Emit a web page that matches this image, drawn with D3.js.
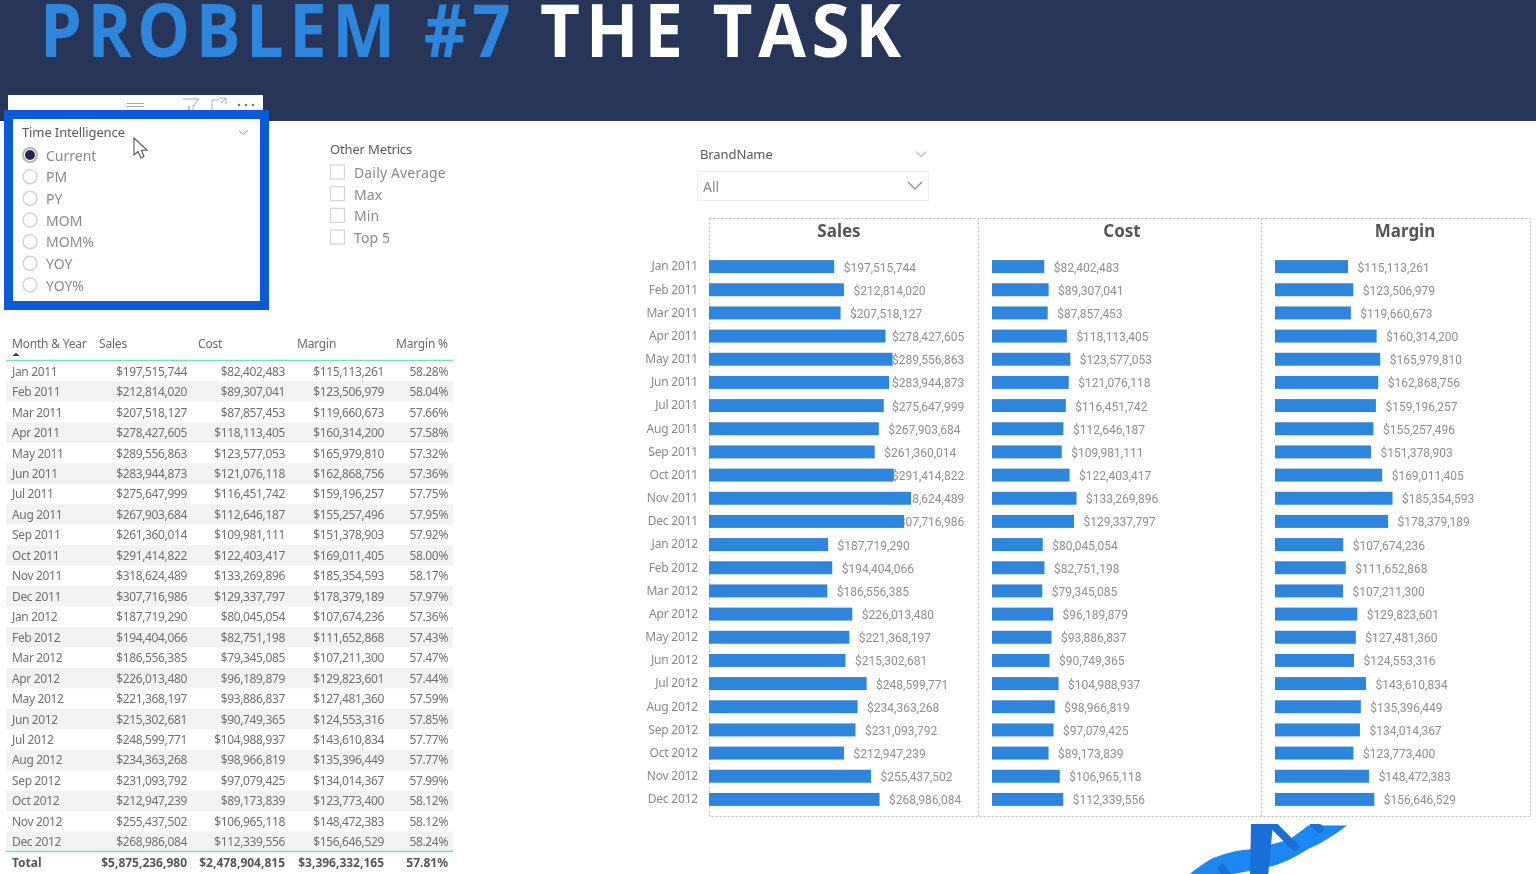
<!DOCTYPE html>
<html>
<head>
<meta charset="utf-8">
<script src="https://cdn.jsdelivr.net/npm/d3@7"></script>
<style>
  html, body { margin: 0; padding: 0; background: #fff; overflow: hidden; }
  svg { display: block; filter: blur(0.35px); }
  text { font-family: "Noto Sans", sans-serif; }
  .axis .domain { display: none; }
  .axis text { font-family: "Noto Sans", sans-serif; font-size: 12px; fill: #8a8a8a; letter-spacing: -0.2px; }
</style>
</head>
<body>
<div id="chart"></div>
<script>
const WIDTH = 1536;
const HEIGHT = 874;

// data
const categories = ["Jan 2011","Feb 2011","Mar 2011","Apr 2011","May 2011","Jun 2011","Jul 2011","Aug 2011","Sep 2011","Oct 2011","Nov 2011","Dec 2011","Jan 2012","Feb 2012","Mar 2012","Apr 2012","May 2012","Jun 2012","Jul 2012","Aug 2012","Sep 2012","Oct 2012","Nov 2012","Dec 2012"];
const salesValues = [197515744,212814020,207518127,278427605,289556863,283944873,275647999,267903684,261360014,291414822,318624489,307716986,187719290,194404066,186556385,226013480,221368197,215302681,248599771,234363268,231093792,212947239,255437502,268986084];
const costValues = [82402483,89307041,87857453,118113405,123577053,121076118,116451742,112646187,109981111,122403417,133269896,129337797,80045054,82751198,79345085,96189879,93886837,90749365,104988937,98966819,97079425,89173839,106965118,112339556];
const marginValues = [115113261,123506979,119660673,160314200,165979810,162868756,159196257,155257496,151378903,169011405,185354593,178379189,107674236,111652868,107211300,129823601,127481360,124553316,143610834,135396449,134014367,123773400,148472383,156646529];
const marginPct = [58.28,58.04,57.66,57.58,57.32,57.36,57.75,57.95,57.92,58.00,58.17,57.97,57.36,57.43,57.47,57.44,57.59,57.85,57.77,57.77,57.99,58.12,58.12,58.24];
const totalValues = [5875236980,2478904815,3396332165];
const totalPct = 57.81;
const tableHeaders = ["Month & Year","Sales","Cost","Margin","Margin %"];
const timeOptions = ["Current","PM","PY","MOM","MOM%","YOY","YOY%"];
const otherMetrics = ["Daily Average","Max","Min","Top 5"];

const BLUE = "#2e86dc";
const GREY_TEXT = "#8a8a8a";
const DARK_TEXT = "#5a5a5a";
const money = d3.format("$,");
const pct = d3.format(".2f");

const svg = d3.select("#chart").append("svg").attr("width", WIDTH).attr("height", HEIGHT);

function drawHeader() {
  svg.append("rect").attr("width", WIDTH).attr("height", 121).attr("fill", "#273558");
  const titlePart = (x, len, fill, txt) => svg.append("text").attr("x", x).attr("y", 57)
    .attr("textLength", len).attr("lengthAdjust", "spacingAndGlyphs").attr("fill", fill)
    .style("font-family", "'Open Sans', sans-serif")
    .style("font-size", "73px").style("font-weight", 700).style("letter-spacing", "6px")
    .text(txt);
  titlePart(40, 476, BLUE, "PROBLEM #7");
  titlePart(540, 367, "#fff", "THE TASK");
}

function drawTimeSlicer() {
  svg.append("rect").attr("x", 8).attr("y", 95).attr("width", 255).attr("height", 20).attr("fill", "#fff");
  // visual header icons
  const icons = svg.append("g").attr("fill", "none").attr("stroke", "#aaa");
  icons.append("path").attr("d", "M127 103.5H144M127 106.5H144");
  icons.append("path").attr("d", "M183 99H199L193 106V110M189 110V106Z");
  icons.append("path").attr("d", "M212 110V100H219M226 104V98H220M226 98L221 103");
  svg.selectAll(".dot").data([239, 246, 253]).enter().append("circle")
    .attr("cx", d => d).attr("cy", 105).attr("r", 1.3).attr("fill", "#777");

  svg.append("rect").attr("x", 8.5).attr("y", 114.5).attr("width", 256).attr("height", 191)
    .attr("fill", "#fff").attr("stroke", "#0b5bd3").attr("stroke-width", 9);

  svg.append("text").attr("x", 22).attr("y", 137).attr("fill", DARK_TEXT).style("font-size", "13px")
    .style("letter-spacing", "-0.12px").text("Time Intelligence");
  svg.append("path").attr("d", "M239 130.5L243.5 134.5L248 130.5").attr("fill", "none").attr("stroke", "#999");

  const y = d3.scalePoint().domain(timeOptions).range([155, 285]);
  const rows = svg.selectAll(".radio").data(timeOptions).enter().append("g").attr("class", "radio");
  rows.append("circle").attr("cx", 30).attr("cy", d => y(d)).attr("r", 7)
    .attr("fill", "#fff").attr("stroke", d => d === "Current" ? "#b5b5b5" : "#d4d4d4").attr("stroke-width", d => d === "Current" ? 2 : 1.5);
  rows.append("text").attr("x", 46).attr("y", d => y(d) + 5.5).attr("fill", GREY_TEXT)
    .style("font-size", "14px").text(d => d);
  svg.append("circle").attr("cx", 30).attr("cy", y("Current")).attr("r", 5).attr("fill", "#1f2a50");

  // mouse cursor
  svg.append("path").attr("d", "M134 138V155L138 151.5L141 158L144 156.5L141.5 150.5L147 150Z")
    .attr("fill", "#fff").attr("stroke", "#555").attr("stroke-width", 1.1);
}

function drawOtherMetrics() {
  svg.append("text").attr("x", 330).attr("y", 154).attr("fill", DARK_TEXT).style("font-size", "13px")
    .style("letter-spacing", "-0.15px").text("Other Metrics");
  const y = d3.scalePoint().domain(otherMetrics).range([172, 237]);
  const rows = svg.selectAll(".check").data(otherMetrics).enter().append("g").attr("class", "check");
  rows.append("rect").attr("x", 330.5).attr("y", d => y(d) - 7).attr("width", 14).attr("height", 14)
    .attr("fill", "#fff").attr("stroke", "#d4d4d4").attr("stroke-width", 1.2);
  rows.append("text").attr("x", 354).attr("y", d => y(d) + 6).attr("fill", GREY_TEXT)
    .style("font-size", "14px").style("letter-spacing", "0.15px").text(d => d);
}

function drawBrandSlicer() {
  svg.append("text").attr("x", 700).attr("y", 159).attr("fill", DARK_TEXT).style("font-size", "13px")
    .style("letter-spacing", "-0.1px").text("BrandName");
  svg.append("path").attr("d", "M916 151.5L921 156.5L926 151.5").attr("fill", "none").attr("stroke", "#999");
  svg.append("rect").attr("x", 697.5).attr("y", 171.5).attr("width", 231).attr("height", 29)
    .attr("fill", "#fff").attr("stroke", "#eee");
  svg.append("text").attr("x", 703).attr("y", 192).attr("fill", GREY_TEXT).style("font-size", "14px").text("All");
  svg.append("path").attr("d", "M908 182L915 189L922 182").attr("fill", "none").attr("stroke", "#888").attr("stroke-width", 1.2);
}

function drawTable() {
  const y = d3.scaleBand().domain(categories).range([361, 852]);
  const rightEdges = [187, 285, 384, 448];
  const headerX = [12, 99, 198, 297, 396];

  svg.selectAll(".row-band").data(categories.filter((d, i) => i % 2 === 1)).enter().append("rect")
    .attr("x", 6).attr("y", d => y(d)).attr("width", 447).attr("height", y.bandwidth()).attr("fill", "#f2f2f2");

  svg.selectAll(".th").data(tableHeaders).enter().append("text")
    .attr("x", (d, i) => headerX[i]).attr("y", 348).attr("fill", "#6a6a6a")
    .style("font-size", "12px").style("letter-spacing", "-0.2px").text(d => d);
  svg.append("path").attr("d", "M12.5 356L16 352.5L19.5 356Z").attr("fill", "#444");

  svg.append("line").attr("x1", 6).attr("x2", 453).attr("y1", 360.5).attr("y2", 360.5).attr("stroke", "#7fd6cd").attr("stroke-width", 1.4);
  svg.append("line").attr("x1", 6).attr("x2", 453).attr("y1", 851.5).attr("y2", 851.5).attr("stroke", "#7fd6cd").attr("stroke-width", 1.4);

  const cell = (x, row, txt, anchor, bold) => svg.append("text")
    .attr("x", x).attr("y", row).attr("text-anchor", anchor)
    .attr("fill", bold ? "#555" : "#707070")
    .style("font-size", "12px").style("letter-spacing", bold ? "0px" : "-0.35px")
    .style("font-weight", bold ? 700 : 400).text(txt);

  categories.forEach((c, i) => {
    const row = y(c) + y.bandwidth() / 2 + 4.5;
    cell(12, row, c, "start");
    cell(rightEdges[0], row, money(salesValues[i]), "end");
    cell(rightEdges[1], row, money(costValues[i]), "end");
    cell(rightEdges[2], row, money(marginValues[i]), "end");
    cell(rightEdges[3], row, pct(marginPct[i]) + "%", "end");
  });

  cell(12, 866.5, "Total", "start", true);
  totalValues.forEach((v, i) => cell(rightEdges[i], 866.5, money(v), "end", true));
  cell(rightEdges[3], 866.5, pct(totalPct) + "%", "end", true);
}

function drawSmallMultiples() {
  const yScale = d3.scaleBand().domain(categories).range([255, 811]).paddingInner(0.44).paddingOuter(0.22);
  const xScale = d3.scaleLinear().domain([0, d3.max(salesValues)]).range([0, 202]);
  const panels = [
    { name: "Sales", values: salesValues, left: 709, centre: 839, labelMax: 892 },
    { name: "Cost", values: costValues, left: 992, centre: 1122, labelMax: 1400 },
    { name: "Margin", values: marginValues, left: 1275, centre: 1405, labelMax: 1460 }
  ];

  // dashed panel borders
  const borders = svg.append("g").attr("fill", "none").attr("stroke", "#bdbdbd").attr("stroke-dasharray", "2 2");
  borders.append("rect").attr("x", 709.5).attr("y", 218.5).attr("width", 821).attr("height", 598);
  borders.append("path").attr("d", "M978.5 218.5V816.5M1261.5 218.5V816.5");

  svg.append("g").attr("class", "axis").attr("transform", "translate(709,0)")
    .call(d3.axisLeft(yScale).tickSize(0).tickPadding(11));

  panels.forEach(p => {
    svg.append("text").attr("x", p.centre).attr("y", 237).attr("text-anchor", "middle")
      .attr("fill", "#555").style("font-size", "17px").style("font-weight", 700).text(p.name);
    const g = svg.append("g").attr("transform", "translate(" + p.left + ",0)");
    // labels go first, the long bars cover them as in the original
    g.selectAll(".bar-label").data(p.values).enter().append("text")
      .attr("x", d => Math.min(xScale(d) + 9.5, p.labelMax - p.left))
      .attr("y", (d, i) => yScale(categories[i]) + yScale.bandwidth() / 2 + 5)
      .attr("fill", "#8f8f8f").style("font-family", "Roboto, sans-serif").style("font-size", "12px")
      .text(d => money(d));
    g.selectAll(".bar").data(p.values).enter().append("rect")
      .attr("x", 0).attr("y", (d, i) => yScale(categories[i]))
      .attr("width", d => xScale(d)).attr("height", yScale.bandwidth()).attr("fill", BLUE);
  });
}

function drawLogo() {
  svg.append("clipPath").attr("id", "logo-clip").append("rect")
    .attr("x", 1150).attr("y", 824).attr("width", 240).attr("height", 50);
  const logo = svg.append("g").attr("clip-path", "url(#logo-clip)");
  logo.append("path").attr("d", "M1186 877C1200 866 1210 858 1219 856C1232 851 1243 850 1253 849C1268 846 1280 842 1290 839C1297 834 1303 830 1308 825.5H1347C1335 835 1322 843 1308 849C1296 857 1285 862 1273 866C1256 870 1238 873 1219 877Z").attr("fill", "#1a87f2");
  logo.append("path").attr("d", "M1251 824H1273L1268 877H1250Z").attr("fill", "#1a6fd6");
  logo.append("path").attr("d", "M1272 824L1295 847").attr("stroke", "#1a6fd6").attr("stroke-width", 8).attr("stroke-linecap", "round");
  logo.append("path").attr("d", "M1314 824L1320 829").attr("stroke", "#1a6fd6").attr("stroke-width", 8).attr("stroke-linecap", "round");
  logo.append("path").attr("d", "M1222 868L1228 877").attr("stroke", "#1a6fd6").attr("stroke-width", 8).attr("stroke-linecap", "round");
}

drawHeader();
drawTimeSlicer();
drawOtherMetrics();
drawBrandSlicer();
drawTable();
drawSmallMultiples();
drawLogo();
</script>
</body>
</html>
